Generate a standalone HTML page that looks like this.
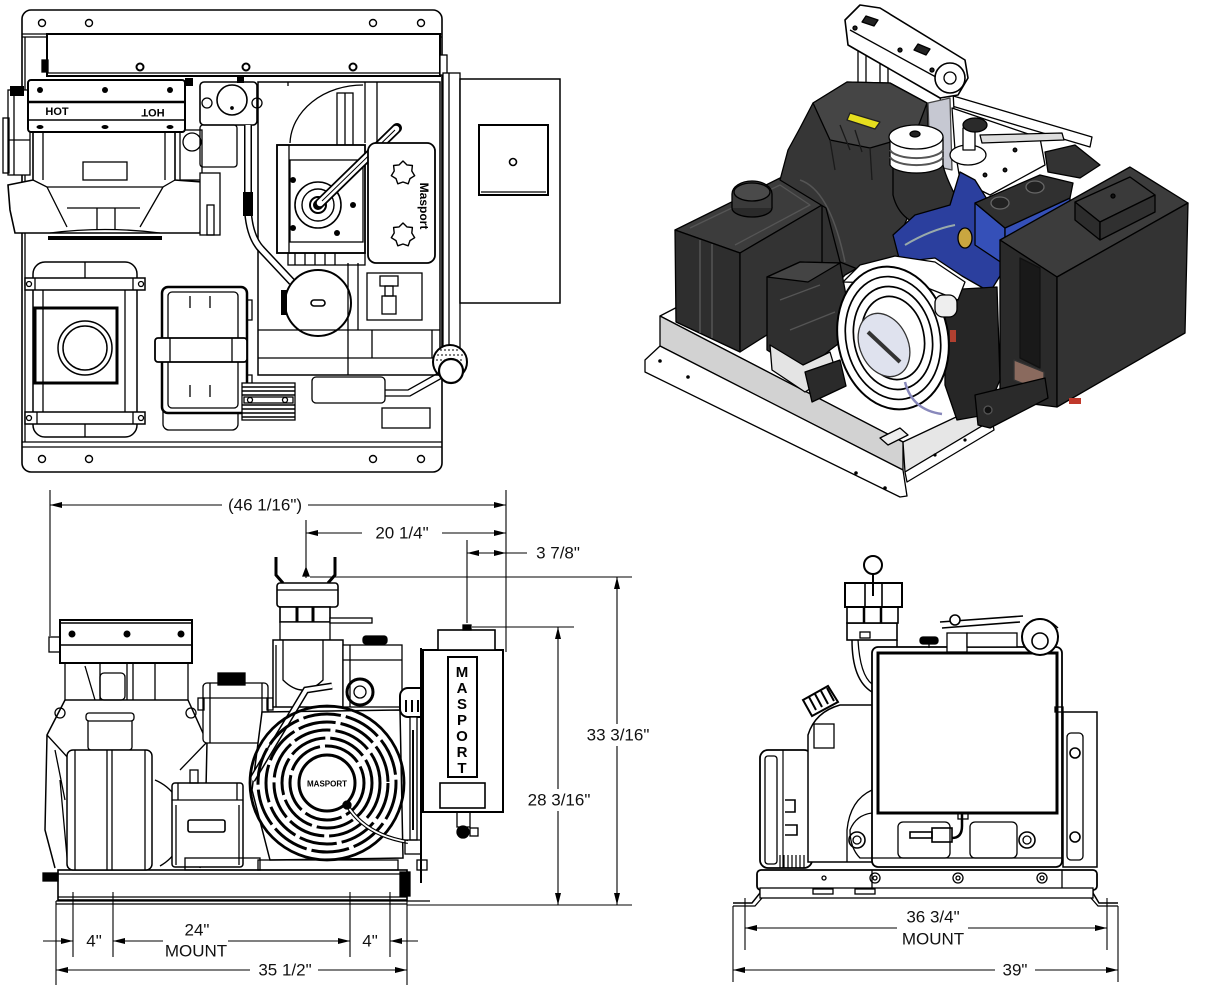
<!DOCTYPE html>
<html><head><meta charset="utf-8"><style>
html,body{margin:0;padding:0;background:#fff;}
svg{display:block;}
text{font-family:"Liberation Sans",sans-serif;}
</style></head><body>
<svg width="1214" height="994" viewBox="0 0 1214 994" xmlns="http://www.w3.org/2000/svg">
<defs>
<marker id="ar" viewBox="0 0 12 6" refX="12" refY="3" markerWidth="12" markerHeight="6" markerUnits="userSpaceOnUse" orient="auto-start-reverse"><path d="M0,0 L12,3 L0,6 Z" fill="#000"/></marker>
</defs>
<rect width="1214" height="994" fill="#fff"/>

<!-- ================= PLAN VIEW ================= -->
<g fill="none" stroke="#000" stroke-width="1.3">
<rect x="22" y="10" width="420" height="462" rx="9" stroke-width="1.6"/>
<path d="M22,34H442M22,37H442M22,442H442M22,447H442M25,37V442"/>
<g stroke-width="1.4">
<circle cx="42" cy="23" r="3.5"/><circle cx="89" cy="23" r="3.5"/><circle cx="373" cy="23" r="3.5"/><circle cx="421" cy="23" r="3.5"/>
<circle cx="42" cy="459" r="3.5"/><circle cx="89" cy="459" r="3.5"/><circle cx="373" cy="459" r="3.5"/><circle cx="421" cy="459" r="3.5"/>
</g>
<!-- muffler bar -->
<rect x="47" y="34" width="393" height="42" fill="#fff" stroke-width="2"/>
<path d="M47,73H440"/>
<circle cx="140" cy="67" r="3.5" stroke-width="2"/><circle cx="246" cy="67" r="3.5" stroke-width="2"/><circle cx="353" cy="67" r="3.5" stroke-width="2"/>
<rect x="440" y="55" width="7" height="20" fill="#fff"/>
<rect x="42" y="60" width="6" height="12" fill="#000"/>

<!-- engine body -->
<path d="M8,185 L10,210 L15,233 L200,233 L203,210 L202,182 L175,180 L175,132 L33,132 L33,180 Z" fill="#fff" stroke-width="1.6"/>
<path d="M43,132V180 M165,132V180 M33,180 L47,187 L67,227 M175,180 L163,187 L140,227 M47,187H163 M67,208H140 M97,208V230 M115,208V230 M50,233 Q105,226 160,233"/>
<rect x="48" y="236" width="114" height="4" fill="#000" stroke="none"/>
<rect x="83" y="162" width="44" height="18"/>
<rect x="8" y="90" width="22" height="85" fill="#fff"/>
<rect x="3" y="118" width="6" height="55"/>
<path d="M14,90V175 M8,140H30"/>
<rect x="10" y="86" width="14" height="10" fill="#000" stroke="none"/>
<rect x="180" y="130" width="22" height="50" fill="#fff"/>
<circle cx="192" cy="142" r="9" fill="#fff"/>
<rect x="200" y="173" width="20" height="62" fill="#fff"/>
<rect x="207" y="205" width="7" height="30"/>
<!-- HOT manifold -->
<rect x="28" y="80" width="157" height="52" rx="3" fill="#fff" stroke-width="2"/>
<path d="M28,102H185" stroke-width="2.5"/><path d="M28,120H185" stroke-width="1.5"/>
<g fill="#000" stroke="none">
<circle cx="40" cy="90" r="3"/><circle cx="105" cy="90" r="3"/><circle cx="170" cy="90" r="3"/>
<ellipse cx="40" cy="127" rx="3.5" ry="2"/><ellipse cx="105" cy="127" rx="3.5" ry="2"/><ellipse cx="170" cy="127" rx="3.5" ry="2"/>
</g>
<text x="57" y="112" font-size="11" font-weight="bold" fill="#000" stroke="none" text-anchor="middle" dominant-baseline="central">HOT</text>
<text x="153" y="112" font-size="11" font-weight="bold" fill="#000" stroke="none" text-anchor="middle" dominant-baseline="central" transform="rotate(180 153 112)">HOT</text>
<!-- filter top -->
<rect x="200" y="82" width="57" height="43" rx="4" fill="#fff" stroke-width="1.6"/>
<circle cx="232" cy="100" r="15" stroke-width="1.6"/>
<circle cx="207" cy="103" r="5"/><circle cx="257" cy="103" r="5"/>
<circle cx="232" cy="108" r="1.2" fill="#000"/>
<rect x="200" y="125" width="37" height="42" rx="3"/>
<rect x="185" y="78" width="8" height="8" fill="#000" stroke="none"/>
<rect x="237" y="75" width="7" height="8" fill="#000" stroke="none"/>

<!-- fuel tank -->
<rect x="33" y="262" width="104" height="175" rx="12" stroke-width="1.5"/>
<path d="M43,290V412 M125,290V412 M85,262V278 M85,424V437"/>
<rect x="25" y="278" width="120" height="12" fill="#fff" stroke-width="1.5"/>
<rect x="25" y="412" width="120" height="12" fill="#fff" stroke-width="1.5"/>
<circle cx="29" cy="284" r="2.5"/><circle cx="141" cy="284" r="2.5"/><circle cx="29" cy="418" r="2.5"/><circle cx="141" cy="418" r="2.5"/>
<path d="M35,278V290 M37,412V424 M133,278V290 M133,412V424"/>
<rect x="35" y="308" width="82" height="75" stroke-width="3"/>
<circle cx="85" cy="348" r="27" stroke-width="1.5"/><circle cx="85" cy="348" r="22" stroke-width="1.5"/>

<!-- battery -->
<rect x="163" y="385" width="75" height="45" rx="6"/>
<rect x="162" y="287" width="85" height="126" rx="6" fill="#fff" stroke-width="2.5"/>
<rect x="168" y="292" width="70" height="116" rx="4"/>
<rect x="155" y="338" width="92" height="24" rx="3" fill="#fff" stroke-width="1.8"/>
<path d="M190,296V308 M210,296V308 M190,385V397 M210,385V397 M170,338V362 M232,338V362"/>
<path d="M247,300 H252 V320 H247 M247,375 H252 V395 H247"/>

<!-- vent grille -->
<rect x="242" y="383" width="53" height="37" fill="#fff"/>
<path d="M242,387H295M242,391H295M242,395H295M242,405H295M242,409H295M242,413H295M242,417H295" stroke-width="1.6"/>
<rect x="244" y="397" width="49" height="6" fill="#fff"/>
<circle cx="250" cy="400" r="2.5"/><circle cx="285" cy="400" r="2.5"/>

<!-- pump frame -->
<rect x="258" y="82" width="182" height="293" stroke-width="1.5"/>
<path d="M365,82V143 M377,82V143 M288,82V86"/>
<path d="M290,143 A73,60 0 0 1 363,85"/>
<rect x="337" y="93" width="16" height="57" fill="#fff"/>
<path d="M345,93V150"/>
<!-- left pipe -->
<path d="M248,125 V212 Q250,238 262,250 L292,282" stroke-width="8"/>
<path d="M248,125 V212 Q250,238 262,250 L292,282" stroke="#fff" stroke-width="5"/>
<rect x="243" y="192" width="10" height="24" fill="#000" stroke="none"/>
<!-- pump body -->
<rect x="277" y="145" width="88" height="108" fill="#fff" stroke-width="1.8"/>
<rect x="277" y="145" width="12" height="108"/>
<rect x="290" y="160" width="73" height="82"/>
<circle cx="318" cy="205" r="23" stroke-width="1.6"/><circle cx="318" cy="205" r="16" stroke-width="1.4"/><circle cx="318" cy="205" r="8" stroke-width="2"/>
<g fill="#000" stroke="none"><circle cx="293" cy="180" r="3"/><circle cx="293" cy="228" r="3"/><circle cx="353" cy="205" r="3"/><circle cx="337" cy="233" r="3"/></g>
<path d="M318,205 L397,128" stroke-width="10" stroke-linecap="round"/>
<path d="M320,203 L396,129" stroke="#fff" stroke-width="6.5" stroke-linecap="round"/>
<path d="M322,201 L395,130" stroke-width="1"/>
<rect x="288" y="253" width="77" height="12"/>
<path d="M295,253V265 M305,253V265 M315,253V265 M325,253V265 M335,253V265"/>
<!-- masport panel -->
<rect x="368" y="143" width="67" height="120" rx="8" fill="#fff" stroke-width="1.8"/>
<g stroke-width="1.4" stroke-linejoin="round">
<polygon transform="translate(403 173)" points="0,-12 3.9,-8.1 9.4,-7.5 8.8,-2 11.7,2.7 7,5.6 5.2,10.8 0,9 -5.2,10.8 -7,5.6 -11.7,2.7 -8.8,-2 -9.4,-7.5 -3.9,-8.1"/>
<polygon transform="translate(403 235)" points="0,-12 3.9,-8.1 9.4,-7.5 8.8,-2 11.7,2.7 7,5.6 5.2,10.8 0,9 -5.2,10.8 -7,5.6 -11.7,2.7 -8.8,-2 -9.4,-7.5 -3.9,-8.1"/>
</g>
<text x="424" y="206" font-size="12" font-weight="bold" font-family="Liberation Serif,serif" fill="#000" stroke="none" text-anchor="middle" dominant-baseline="central" transform="rotate(90 424 206)">Masport</text>
<!-- fan circle -->
<circle cx="318" cy="303" r="33" fill="#fff" stroke-width="2"/>
<rect x="311" y="300" width="14" height="6" rx="3" stroke-width="1.6"/>
<rect x="281" y="290" width="6" height="25" fill="#000" stroke="none"/>
<path d="M348,263V375 M358,263V330"/>
<rect x="367" y="273" width="55" height="47"/>
<rect x="380" y="276" width="18" height="10"/><rect x="385" y="286" width="8" height="10"/><rect x="382" y="296" width="14" height="18"/>
<path d="M258,330H440 M258,358H440 M372,330V358 M432,330V358"/>
<!-- under tank & pipe -->
<rect x="312" y="377" width="73" height="26" rx="4" fill="#fff"/>
<path d="M385,390 L408,390 L440,372 M385,396 L410,396 L442,378"/>
<rect x="382" y="408" width="48" height="20"/>
<!-- right vertical bar -->
<rect x="443" y="73" width="17" height="275" fill="#fff"/>
<path d="M449,73V348"/>
<!-- knob -->
<circle cx="450" cy="362" r="17" fill="#fff" stroke-width="2"/>
<path d="M437,355H463M436,360H464M440,350H460" stroke-width="1" stroke-dasharray="2 2"/>
<circle cx="451" cy="371" r="12" fill="#fff" stroke-width="2.2"/>
<!-- right box -->
<rect x="460" y="79" width="100" height="224" stroke-width="1.5" fill="#fff"/>
<rect x="479" y="125" width="69" height="70" stroke-width="2"/>
<path d="M481,192H546"/>
<circle cx="513" cy="162" r="3.5" stroke-width="1.6"/>
</g>

<!-- ================= ISOMETRIC VIEW ================= -->
<g stroke="#000" stroke-width="1.3" stroke-linejoin="round">
<!-- base plate -->
<polygon points="660,316 745,272 995,395 990,412 903,442" fill="#fff"/>
<polygon points="660,316 903,442 903,470 660,346" fill="#d2d2d2"/>
<polygon points="645,360 660,346 903,470 907,496 900,497 645,372" fill="#fff"/>
<polygon points="903,442 988,402 992,420 905,472" fill="#e6e6e6"/>
<polygon points="905,472 992,420 994,430 907,482" fill="#fff"/>
<g fill="#000" stroke="none">
<circle cx="660" cy="361" r="1.8"/><circle cx="688" cy="377" r="1.8"/><circle cx="856" cy="473" r="1.8"/><circle cx="885" cy="488" r="1.8"/><circle cx="935" cy="455" r="1.6"/><circle cx="965" cy="440" r="1.6"/>
</g>
<polygon points="880,438 900,428 908,435 888,445" fill="#eee"/>
<!-- muffler supports & frame -->
<polygon points="950,95 1092,137 1090,147 952,106" fill="#fff"/>
<polygon points="858,45 866,48 866,98 858,98" fill="#fff"/>
<polygon points="880,55 888,58 888,105 880,105" fill="#fff"/>
<polygon points="940,92 953,90 956,152 943,156" fill="#fff"/>
<!-- muffler -->
<polygon points="845,20 860,5 880,8 965,60 968,78 958,95 940,98 848,45" fill="#fff" stroke-width="1.6"/>
<path d="M850,30 L945,82" fill="none"/>
<circle cx="950" cy="78" r="15" fill="#fff" stroke-width="1.6"/>
<circle cx="950" cy="78" r="6" fill="#fff"/>
<polygon points="866,16 878,20 874,26 862,22" fill="#222"/>
<polygon points="918,44 930,49 926,55 914,50" fill="#222"/>
<circle cx="855" cy="28" r="2" fill="#222"/><circle cx="900" cy="50" r="2" fill="#222"/><circle cx="932" cy="70" r="2" fill="#222"/>
<!-- flywheel housing (behind) -->
<polygon points="815,200 835,195 858,215 868,262 845,275 822,300 815,260" fill="#303030"/>
<!-- left fuel tank -->
<polygon points="675,230 780,178 822,205 740,253" fill="#3c3c3c"/>
<polygon points="675,230 740,253 740,352 676,322" fill="#2e2e2e"/>
<polygon points="740,253 822,205 822,300 740,352" fill="#333"/>
<path d="M700,240 V333 M712,244 V338" stroke="#555" fill="none" stroke-width="1.5"/>
<path d="M690,228 L780,185 L810,205 L735,245" stroke="#555" fill="none"/>
<ellipse cx="752" cy="208" rx="20" ry="9" fill="#2a2a2a"/>
<path d="M732,208 V194 A20,13 0 0 1 772,194 V208" fill="#3a3a3a"/>
<ellipse cx="752" cy="192" rx="18" ry="9" fill="#4a4a4a"/>
<!-- engine shroud -->
<polygon points="780,180 788,150 800,128 813,103 847,82 890,83 927,103 930,165 915,200 898,240 902,265 860,270 840,262 826,208" fill="#363636"/>
<polygon points="813,103 847,82 890,83 927,103 915,135 870,148 830,140" fill="#454545"/>
<path d="M830,140 L835,170 M870,148 L872,180 M915,135 L920,165 M840,125 L850,150 M855,130 L862,152" stroke="#1a1a1a" fill="none"/>
<path d="M800,180 Q830,190 845,262" stroke="#555" fill="none" stroke-width="1.5"/>
<polygon points="850,113 880,122 875,129 847,120" fill="#e6df1e" stroke="#222"/>
<polygon points="928,103 950,98 952,170 930,165" fill="#c6c8d2" stroke="#444"/>
<!-- intake -->
<path d="M893,165 L893,195 Q900,225 935,228 L957,222 L955,195 Q945,175 943,165 Z" fill="#333"/>
<path d="M890,137 V165 A27,10 0 0 0 943,165 V137 Z" fill="#fff"/>
<path d="M890,150 A27,10 0 0 0 943,150 M890,157 A27,10 0 0 0 943,157" fill="none" stroke="#555" stroke-width="2"/>
<ellipse cx="916" cy="137" rx="27" ry="12" fill="#fff"/>
<ellipse cx="915" cy="134" rx="5" ry="3" fill="#222"/>
<!-- pump head white area -->
<polygon points="952,108 1040,138 1045,165 990,195 960,180 955,150" fill="#fff"/>
<ellipse cx="968" cy="155" rx="18" ry="10" fill="#fff"/>
<rect x="963" y="128" width="12" height="22" fill="#fff"/>
<ellipse cx="975" cy="125" rx="12" ry="7" fill="#2a2a2a"/>
<polygon points="980,135 1062,133 1064,140 982,143" fill="#ddd"/>
<circle cx="985" cy="175" r="1.8" fill="#222"/><circle cx="1005" cy="170" r="1.8" fill="#222"/><circle cx="1015" cy="150" r="1.8" fill="#222"/>
<!-- blue block -->
<polygon points="893,235 915,215 950,205 960,172 975,180 1005,228 1005,268 990,292 962,276 935,258 900,262" fill="#2b3f9e"/>
<path d="M905,245 Q930,230 955,225" stroke="#9aa" fill="none" stroke-width="2"/>
<ellipse cx="965" cy="238" rx="7" ry="10" fill="#c9a640"/>
<!-- battery on blue -->
<polygon points="975,203 1005,228 1005,265 975,245" fill="#3550b8"/>
<polygon points="1005,228 1070,198 1070,218 1005,250" fill="#3550b8"/>
<polygon points="975,203 1040,175 1073,183 1070,198 1005,228" fill="#303030"/>
<ellipse cx="1000" cy="203" rx="9" ry="6" fill="#222" stroke="#666"/>
<ellipse cx="1035" cy="187" rx="9" ry="6" fill="#222" stroke="#666"/>
<polygon points="1045,152 1075,145 1100,165 1080,178 1048,172" fill="#333"/>
<!-- right tank -->
<polygon points="1000,240 1130,167 1188,203 1057,277" fill="#3c3c3c"/>
<polygon points="1000,240 1057,277 1057,407 1000,400" fill="#2a2a2a"/>
<polygon points="1057,277 1188,203 1185,333 1057,407" fill="#333"/>
<polygon points="1075,202 1130,177 1155,195 1100,222" fill="#3a3a3a"/>
<polygon points="1075,202 1100,222 1100,240 1075,220" fill="#2c2c2c"/>
<polygon points="1100,222 1155,195 1155,212 1100,240" fill="#303030"/>
<circle cx="1113" cy="196" r="2" fill="#111"/>
<polygon points="1020,258 1040,268 1040,368 1020,358" fill="#191919" stroke="#111"/>
<polygon points="1014,360 1044,372 1044,392 1014,380" fill="#8a6a5e" stroke="#333"/>
<rect x="1069" y="398" width="12" height="6" fill="#c0392b" stroke="none"/>
<!-- radiator dark bracket -->
<polygon points="945,290 997,287 1000,380 985,415 957,420 945,385" fill="#262626"/>
<polygon points="975,395 1045,378 1048,398 990,428 978,425" fill="#2a2a2a"/>
<circle cx="988" cy="410" r="4" fill="#111" stroke="#555"/>
<rect x="950" y="330" width="6" height="12" fill="#b04030" stroke="none"/>
<!-- left battery box -->
<polygon points="767,277 800,262 840,263 853,333 830,350 803,373 767,350" fill="#2f2f2f"/>
<polygon points="767,277 800,262 840,263 808,282" fill="#444"/>
<path d="M780,300 L820,285 M790,330 L835,312" stroke="#555" fill="none"/>
<polygon points="770,345 803,365 830,352 836,372 805,392 772,370" fill="#e4e4e4"/>
<polygon points="805,372 840,360 846,386 812,402" fill="#2a2a2a"/>
<!-- fan shroud & fan -->
<polygon points="843,282 860,265 895,256 935,262 965,282 958,300 925,287 880,283" fill="#fff"/>
<ellipse cx="893" cy="338" rx="55" ry="72" transform="rotate(-12 893 338)" fill="#fff" stroke-width="2"/>
<g fill="none" stroke-width="1.7">
<ellipse cx="893" cy="338" rx="47" ry="62" transform="rotate(-12 893 338)"/>
<ellipse cx="893" cy="338" rx="39" ry="52" transform="rotate(-12 893 338)"/>
<ellipse cx="893" cy="338" rx="31" ry="42" transform="rotate(-12 893 338)"/>
</g>
<ellipse cx="884" cy="345" rx="24" ry="33" transform="rotate(-25 884 345)" fill="#dfe2ee" stroke="#333"/>
<path d="M868,332 L900,362" stroke="#333" stroke-width="4" fill="none"/>
<path d="M905,382 Q912,410 942,414" stroke="#8888bb" stroke-width="2.5" fill="none"/>
<rect x="935" y="295" width="22" height="22" rx="8" fill="#eee"/>
</g>

<!-- ================= SIDE VIEW ================= -->
<g fill="none" stroke="#000" stroke-width="1.3">
<!-- base -->
<rect x="58" y="870" width="349" height="30" fill="#fff" stroke-width="1.6"/>
<path d="M58,874H407 M58,897H407 M56,901H430 M56,904H407" stroke-width="1.2"/>
<rect x="43" y="873" width="15" height="8" fill="#000"/>
<rect x="400" y="872" width="10" height="24" fill="#000"/>
<!-- engine -->
<path d="M65,700 L47,735 L45,830 L55,868 M188,700 L207,742 L205,835 L200,868" stroke-width="1.5"/>
<path d="M65,700H188 M47,735 L70,760 M207,742 L180,770 M60,780 L68,868 M55,750 L65,800"/>
<circle cx="60" cy="713" r="5"/><circle cx="191" cy="713" r="5"/>
<path d="M155,780 A48,48 0 0 1 160,866" stroke-width="1.4"/>
<rect x="60" y="620" width="132" height="43" stroke-width="2"/>
<path d="M60,623H192 M60,645H192" stroke-width="1.5"/>
<g fill="#000" stroke="none"><circle cx="72" cy="634" r="3.5"/><circle cx="127" cy="634" r="3.5"/><circle cx="181" cy="634" r="3.5"/></g>
<rect x="49" y="637" width="11" height="15"/>
<rect x="65" y="663" width="123" height="37"/>
<path d="M100,663V700 M127,663V700 M133,663V700 M155,663V700 M85,666 L95,700"/>
<rect x="100" y="673" width="25" height="27" rx="4"/>
<rect x="88" y="717" width="44" height="33" rx="3" fill="#fff"/>
<rect x="86" y="713" width="48" height="8" rx="3" fill="#fff"/>
<rect x="67" y="750" width="85" height="120" rx="6" fill="#fff" stroke-width="1.5"/>
<path d="M107,750V870 M112,750V870 M75,750V870 M145,750V870"/>
<!-- starter -->
<rect x="203" y="683" width="65" height="60" rx="4" fill="#fff"/>
<rect x="218" y="673" width="27" height="12" fill="#000"/>
<path d="M210,683V743 M262,683V743 M203,698H268"/>
<rect x="198" y="698" width="6" height="12"/><rect x="267" y="698" width="6" height="12"/>
<!-- battery box -->
<rect x="172" y="783" width="71" height="84" rx="3" fill="#fff" stroke-width="1.5"/>
<path d="M172,800H243 M178,783V800 M237,783V800 M176,805V865 M239,805V865"/>
<rect x="188" y="820" width="37" height="12" rx="2" stroke-width="1.6"/>
<rect x="190" y="770" width="8" height="13"/>
<!-- pump -->
<path d="M276,557V575 L283,583 M335,557V575 L328,583" stroke-width="3"/>
<path d="M303,576 L306,568 L309,576 Z" fill="#000"/>
<rect x="277" y="583" width="61" height="24" rx="3" fill="#fff" stroke-width="1.6"/>
<path d="M277,590H338"/>
<rect x="280" y="607" width="50" height="15" fill="#fff" stroke-width="1.6"/>
<path d="M297,607V622 M313,607V622" stroke-width="3"/>
<rect x="280" y="622" width="50" height="18" fill="#fff"/>
<rect x="330" y="618" width="42" height="5" fill="#fff"/>
<rect x="273" y="640" width="70" height="67" fill="#fff" stroke-width="1.5"/>
<path d="M283,640 V680 Q303,700 323,680 V640 M276,645V707"/>
<rect x="343" y="645" width="59" height="62" fill="#fff"/>
<path d="M350,645V707 M343,660H402"/>
<rect x="363" y="636" width="24" height="8" rx="3" fill="#000"/>
<circle cx="360" cy="692" r="13" stroke-width="3"/>
<circle cx="360" cy="692" r="6"/>
<!-- fan housing -->
<path d="M262,712 L400,710 L403,858 L270,860 L252,790 Z" fill="#fff" stroke-width="1.5"/>
<rect x="258" y="860" width="140" height="10"/>
<rect x="185" y="858" width="75" height="12"/>
<path d="M252,780 L306,690 L332,686" stroke-width="7"/>
<path d="M252,780 L306,690 L332,686" stroke="#fff" stroke-width="4"/>
<circle cx="327" cy="783" r="77" stroke-width="2.8"/>
<g stroke-width="3" stroke-dasharray="38 5">
<circle cx="327" cy="783" r="69"/>
<circle cx="327" cy="783" r="61"/>
<circle cx="327" cy="783" r="53"/>
<circle cx="327" cy="783" r="45"/>
<circle cx="327" cy="783" r="37"/>
</g>
<circle cx="327" cy="783" r="28" fill="#fff" stroke-width="3"/>
<text x="327" y="784" font-size="8" font-weight="bold" fill="#000" stroke="none" text-anchor="middle" dominant-baseline="central">MASPORT</text>
<path d="M347,805 Q365,835 408,842" stroke-width="4"/>
<path d="M347,805 Q365,835 408,842" stroke="#fff" stroke-width="1.8"/>
<circle cx="347" cy="805" r="4" fill="#000"/>
<!-- dipstick / filter -->
<rect x="400" y="688" width="30" height="29" rx="8" fill="#fff" stroke-width="2"/>
<path d="M406,700V712 M412,700V712 M418,700V712 M424,700V712" stroke-width="2"/>
<rect x="410" y="717" width="7" height="123" fill="#fff"/>
<path d="M413,730V830" stroke-width="2"/>
<rect x="405" y="840" width="16" height="14"/>
<path d="M421,648V883" stroke-width="2"/>
<rect x="417" y="860" width="10" height="10"/>
<!-- right tank -->
<rect x="423" y="650" width="80" height="162" fill="#fff" stroke-width="2"/>
<rect x="438" y="630" width="57" height="20" fill="#fff" stroke-width="1.6"/>
<rect x="463" y="625" width="8" height="5" fill="#000"/>
<rect x="448" y="657" width="29" height="120" stroke-width="2"/>
<g fill="#000" stroke="none" font-size="15" font-weight="bold" text-anchor="middle">
<text x="462" y="677">M</text><text x="462" y="693">A</text><text x="462" y="709">S</text><text x="462" y="725">P</text><text x="462" y="741">O</text><text x="462" y="757">R</text><text x="462" y="773">T</text>
</g>
<rect x="440" y="783" width="45" height="25" stroke-width="1.6"/>
<rect x="457" y="812" width="13" height="15"/>
<circle cx="463" cy="832" r="6" fill="#000"/>
<rect x="470" y="828" width="8" height="8"/>
</g>

<!-- side view dimensions -->
<g stroke="#000" stroke-width="1.1" fill="none">
<path d="M50,490V636 M506,490V652 M306,520V578 M467,540V623"/>
<path d="M310,577H632 M472,627H574 M407,905H632"/>
<path d="M50,505H222" marker-start="url(#ar)"/><path d="M308,505H506" marker-end="url(#ar)"/>
<path d="M306,533H362" marker-start="url(#ar)"/><path d="M442,533H506" marker-end="url(#ar)"/>
<path d="M467,553H506" marker-start="url(#ar)" marker-end="url(#ar)"/><path d="M506,553H527"/>
<path d="M617,577V724" marker-start="url(#ar)"/><path d="M617,746V905" marker-end="url(#ar)"/>
<path d="M558,627V789" marker-start="url(#ar)"/><path d="M558,811V905" marker-end="url(#ar)"/>
<path d="M56,901V985 M73,892V957 M113,892V957 M350,892V957 M390,892V957 M407,870V985"/>
<path d="M43,941H73" marker-end="url(#ar)"/>
<path d="M418,941H390" marker-end="url(#ar)"/>
<path d="M113,941H163" marker-start="url(#ar)"/><path d="M228,941H350" marker-end="url(#ar)"/>
<path d="M56,970H250" marker-start="url(#ar)"/><path d="M318,970H407" marker-end="url(#ar)"/>
</g>
<g fill="#111" font-size="17" text-anchor="middle" dominant-baseline="central">
<text x="265" y="505">(46 1/16")</text>
<text x="402" y="533">20 1/4"</text>
<text x="558" y="553">3 7/8"</text>
<text x="618" y="735">33 3/16"</text>
<text x="559" y="800">28 3/16"</text>
<text x="94" y="941">4"</text>
<text x="197" y="930">24"</text>
<text x="196" y="951">MOUNT</text>
<text x="370" y="941">4"</text>
<text x="285" y="970">35 1/2"</text>
</g>

<!-- ================= END VIEW ================= -->
<g fill="none" stroke="#000" stroke-width="1.3">
<!-- base -->
<path d="M733,903 H752 L760,893 V888 M1118,903 H1099 L1093,893 V888" stroke-width="1.5"/>
<path d="M733,906 H755 L762,898 M1118,906 H1098 L1091,898"/>
<rect x="757" y="870" width="340" height="20" rx="4" fill="#fff" stroke-width="1.8"/>
<rect x="760" y="888" width="333" height="10" fill="#fff"/>
<path d="M872,870V888 M1062,870V888"/>
<circle cx="875" cy="878" r="5"/><circle cx="958" cy="878" r="5"/><circle cx="1042" cy="878" r="5"/>
<circle cx="875" cy="878" r="2"/><circle cx="958" cy="878" r="2"/><circle cx="1042" cy="878" r="2"/>
<circle cx="824" cy="878" r="2"/>
<rect x="813" y="889" width="20" height="5"/><rect x="855" y="889" width="20" height="5"/>
<!-- left components -->
<rect x="760" y="750" width="52" height="118" rx="8" fill="#fff" stroke-width="1.8"/>
<rect x="765" y="756" width="12" height="108" rx="3"/>
<path d="M783,750V868 M780,855V868 M784,855V868 M788,855V868 M792,855V868 M796,855V868 M800,855V868 M804,855V868" stroke-width="1.2"/>
<path d="M785,800 h10 v12 h-10 M785,825 h12 v10 h-12" stroke-width="1.6"/>
<!-- pump housing -->
<path d="M872,705 L840,705 Q815,712 808,735 L808,862 H872" fill="#fff" stroke-width="1.5"/>
<path d="M872,790 Q850,800 847,830 L847,862"/>
<rect x="814" y="724" width="20" height="24"/>
<polygon points="803,700 828,686 838,702 812,716" fill="#fff" stroke-width="2"/>
<path d="M809,697 L816,710 M815,694 L822,707 M821,691 L828,704 M827,688 L834,701" stroke-width="2"/>
<!-- neck & coupling -->
<path d="M852,640 Q852,680 872,692 M897,640 V652" stroke-width="1.5"/>
<path d="M858,640 Q860,675 872,684"/>
<rect x="847" y="623" width="50" height="17" fill="#fff" stroke-width="1.6"/>
<rect x="847" y="607" width="51" height="16" fill="#fff" stroke-width="1.6"/>
<path d="M864,607V623 M881,607V623" stroke-width="2.5"/>
<rect x="845" y="583" width="57" height="24" fill="#fff" stroke-width="2"/>
<path d="M865,583V607 M882,583V607" stroke-width="1.6"/>
<path d="M873,574V596" stroke-width="2"/>
<circle cx="873" cy="565" r="9" fill="#fff" stroke-width="2"/>
<rect x="860" y="632" width="10" height="6"/>
<!-- main box -->
<rect x="872" y="647" width="190" height="220" rx="6" fill="#fff" stroke-width="1.8"/>
<rect x="878" y="653" width="179" height="160" stroke-width="3"/>
<path d="M872,813 Q856,815 850,830 Q850,848 860,858 H1063"/>
<circle cx="857" cy="840" r="8" stroke-width="1.6"/><circle cx="857" cy="840" r="4"/>
<circle cx="1027" cy="840" r="8" stroke-width="1.6"/><circle cx="1027" cy="840" r="4"/>
<rect x="898" y="822" width="52" height="36" rx="5"/>
<rect x="970" y="822" width="47" height="36" rx="5"/>
<rect x="910" y="832" width="22" height="6" stroke-width="1.6"/>
<rect x="932" y="828" width="20" height="14" stroke-width="1.6"/>
<path d="M952,838 Q962,838 962,826 V813" stroke-width="2.5"/>
<rect x="958" y="813" width="10" height="6"/>
<!-- top parts -->
<rect x="947" y="633" width="20" height="19" fill="#fff"/>
<rect x="967" y="633" width="50" height="14" fill="#fff"/>
<path d="M940,622 L1023,616 M942,628 L1020,622" stroke-width="1.6"/>
<circle cx="955" cy="620" r="5" fill="#fff" stroke-width="1.6"/>
<circle cx="1040" cy="637" r="18" fill="#fff" stroke-width="2"/>
<circle cx="1040" cy="641" r="8" stroke-width="1.6"/>
<path d="M1025,627 Q1040,610 1058,628" />
<rect x="920" y="637" width="18" height="7" rx="3" fill="#000"/>
<path d="M929,644V648"/>
<!-- right components -->
<rect x="1063" y="712" width="34" height="155" fill="#fff" stroke-width="1.5"/>
<rect x="1067" y="733" width="16" height="127" rx="4"/>
<circle cx="1075" cy="753" r="5" stroke-width="1.6"/><circle cx="1075" cy="837" r="5" stroke-width="1.6"/>
<rect x="1055" y="707" width="8" height="5"/>
</g>
<!-- end view dimensions -->
<g stroke="#000" stroke-width="1.1" fill="none">
<path d="M745,898V950 M1107,898V950 M733,906V982 M1118,906V982"/>
<path d="M745,928H897" marker-start="url(#ar)"/><path d="M968,928H1107" marker-end="url(#ar)"/>
<path d="M733,970H995" marker-start="url(#ar)"/><path d="M1035,970H1118" marker-end="url(#ar)"/>
</g>
<g fill="#111" font-size="17" text-anchor="middle" dominant-baseline="central">
<text x="933" y="917">36 3/4"</text>
<text x="933" y="939">MOUNT</text>
<text x="1015" y="970">39"</text>
</g>
</svg>
</body></html>
